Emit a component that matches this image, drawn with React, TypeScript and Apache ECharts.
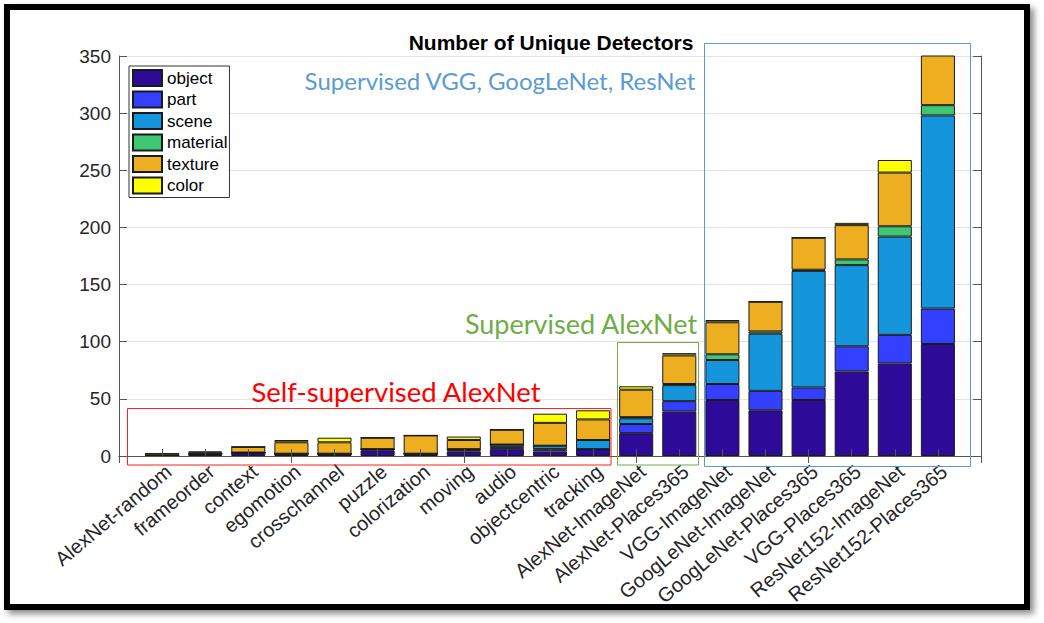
import React, { useEffect, useRef } from 'react';
import * as echarts from 'echarts';

const categories = [
  'AlexNet-random', 'frameorder', 'context', 'egomotion', 'crosschannel', 'puzzle',
  'colorization', 'moving', 'audio', 'objectcentric', 'tracking', 'AlexNet-ImageNet',
  'AlexNet-Places365', 'VGG-ImageNet', 'GoogLeNet-ImageNet', 'GoogLeNet-Places365',
  'VGG-Places365', 'ResNet152-ImageNet', 'ResNet152-Places365'
];

const objectCounts = [0, 1, 3, 2, 2, 5, 2, 4, 6, 4, 6, 20, 39, 49, 40, 49, 74, 81, 98];
const partCounts = [0, 1, 0, 0, 0, 1, 0, 1, 2, 2, 0, 8, 9, 14, 17, 11, 22, 25, 31];
const sceneCounts = [0, 0, 0, 0, 0, 0, 0, 1, 2, 3, 8, 5, 14, 21, 50, 102, 71, 86, 169];
const materialCounts = [0, 0, 0, 0, 0, 0, 0, 0, 0, 0, 0, 1, 1, 5, 2, 1, 5, 9, 9];
const textureCounts = [2, 1, 5, 10, 10, 10, 16, 8, 13, 20, 18, 24, 25, 28, 26, 28, 30, 47, 50];
const colorCounts = [0, 1, 0, 2, 4, 0, 0, 3, 0, 8, 8, 3, 2, 2, 0, 0, 2, 11, 0];

const yTicks = { min: 0, max: 350, interval: 50 };

const seriesDefs = [
  { name: 'object', data: objectCounts, color: '#2d0a98' },
  { name: 'part', data: partCounts, color: '#3440ff' },
  { name: 'scene', data: sceneCounts, color: '#1596dc' },
  { name: 'material', data: materialCounts, color: '#3ec874' },
  { name: 'texture', data: textureCounts, color: '#edaf1f' },
  { name: 'color', data: colorCounts, color: '#ffff00' }
];

const FONT = '"Liberation Sans", Arial, Helvetica, sans-serif';
const NOTE_FONT = 'Lato, "Open Sans", sans-serif';

// one empty slot on each side, like the MATLAB x limits
const pad = (a: any[]) => [null, ...a, null];
const xData = ['', ...categories, ''];

const App: React.FC = () => {
  const chartRef = useRef<HTMLDivElement>(null);

  useEffect(() => {
    document.body.style.margin = '0';
    if (!chartRef.current) return;
    const chart = echarts.init(chartRef.current, undefined, { renderer: 'svg' });

    const axisColor = '#555555';

    const note = (text: string, x: number, y: number, fill: string, size: number) => ({
      type: 'text',
      silent: true,
      z: 10,
      x,
      y,
      style: { text, fill, font: `${size}px ${NOTE_FONT}`, align: 'center', verticalAlign: 'middle' }
    });

    const box = (x: number, y: number, width: number, height: number, stroke: string) => ({
      type: 'rect',
      silent: true,
      z: 10,
      shape: { x, y, width, height },
      style: { fill: 'none', stroke, lineWidth: 1 }
    });

    const option: any = {
      animation: false,
      backgroundColor: '#ffffff',
      title: {
        text: 'Number of Unique Detectors',
        left: 546,
        textAlign: 'center',
        top: 27,
        textStyle: { fontFamily: FONT, fontSize: 21, fontWeight: 'bold', color: '#000' }
      },
      legend: {
        orient: 'vertical',
        left: 129,
        top: 66,
        z: 20,
        icon: 'rect',
        itemWidth: 29,
        itemHeight: 16,
        itemGap: 3.5,
        padding: [3, 2, 3, 3],
        borderColor: '#333',
        borderWidth: 1,
        backgroundColor: '#fff',
        selectedMode: false,
        textStyle: { fontFamily: FONT, fontSize: 17, color: '#000' },
        data: seriesDefs.map(s => s.name)
      },
      grid: { left: 119, right: 63, top: 56, bottom: 167 },
      xAxis: [
        {
          type: 'category',
          data: xData,
          boundaryGap: false,
          z: 5,
          axisLine: { show: true, lineStyle: { color: axisColor, width: 1 } },
          axisTick: { show: true, inside: true, length: 7, lineStyle: { color: axisColor } },
          axisLabel: {
            interval: 0,
            rotate: 40,
            margin: 5,
            verticalAlign: 'top',
            fontFamily: FONT,
            fontSize: 20,
            color: '#262626'
          },
          splitLine: { show: false }
        },
        {
          type: 'category',
          data: xData,
          boundaryGap: false,
          position: 'top',
          z: 5,
          axisLine: { show: true, lineStyle: { color: axisColor, width: 1 } },
          axisTick: { show: true, inside: true, length: 7, lineStyle: { color: axisColor } },
          axisLabel: { show: false },
          splitLine: { show: false }
        }
      ],
      yAxis: [
        {
          type: 'value',
          ...yTicks,
          axisLine: { show: true, lineStyle: { color: axisColor, width: 1 } },
          axisTick: { show: true, inside: true, length: 8, lineStyle: { color: axisColor } },
          axisLabel: { margin: 8, fontFamily: FONT, fontSize: 19, color: '#262626' },
          splitLine: { show: true, lineStyle: { color: '#e3e3e3', width: 1 } }
        },
        {
          type: 'value',
          ...yTicks,
          position: 'right',
          z: 5,
          axisLine: { show: true, lineStyle: { color: axisColor, width: 1 } },
          axisTick: { show: true, inside: true, length: 8, lineStyle: { color: axisColor } },
          axisLabel: { show: false },
          splitLine: { show: false }
        }
      ],
      series: seriesDefs.map(s => ({
        name: s.name,
        type: 'bar',
        stack: 'total',
        xAxisIndex: 0,
        yAxisIndex: 0,
        barWidth: '79%',
        data: pad(s.data),
        itemStyle: { color: s.color, borderColor: '#1a1a1a', borderWidth: 1 }
      })),
      graphic: [
        {
          type: 'rect',
          silent: true,
          z: -10,
          shape: { x: 7, y: 7, width: 1020, height: 600 },
          style: {
            fill: '#fff',
            stroke: '#000',
            lineWidth: 6,
            shadowBlur: 6,
            shadowOffsetX: 4,
            shadowOffsetY: 4,
            shadowColor: 'rgba(0,0,0,0.45)'
          }
        },
        box(127.5, 408.5, 483.5, 56.5, '#ff2020'),
        note('Self-supervised AlexNet', 396, 391, '#ff0000', 27.5),
        box(617.5, 342.5, 81, 122.5, '#70ad47'),
        note('Supervised AlexNet', 581, 323, '#70ad47', 27),
        box(704.5, 43.5, 266, 423, '#5b9bd5'),
        note('Supervised VGG, GoogLeNet, ResNet', 500, 80, '#5b9bd5', 24)
      ]
    };

    chart.setOption(option);

    return () => {
      chart.dispose();
    };
  }, []);

  return <div ref={chartRef} style={{ width: '1044px', height: '623px' }} />;
};

export default App;
